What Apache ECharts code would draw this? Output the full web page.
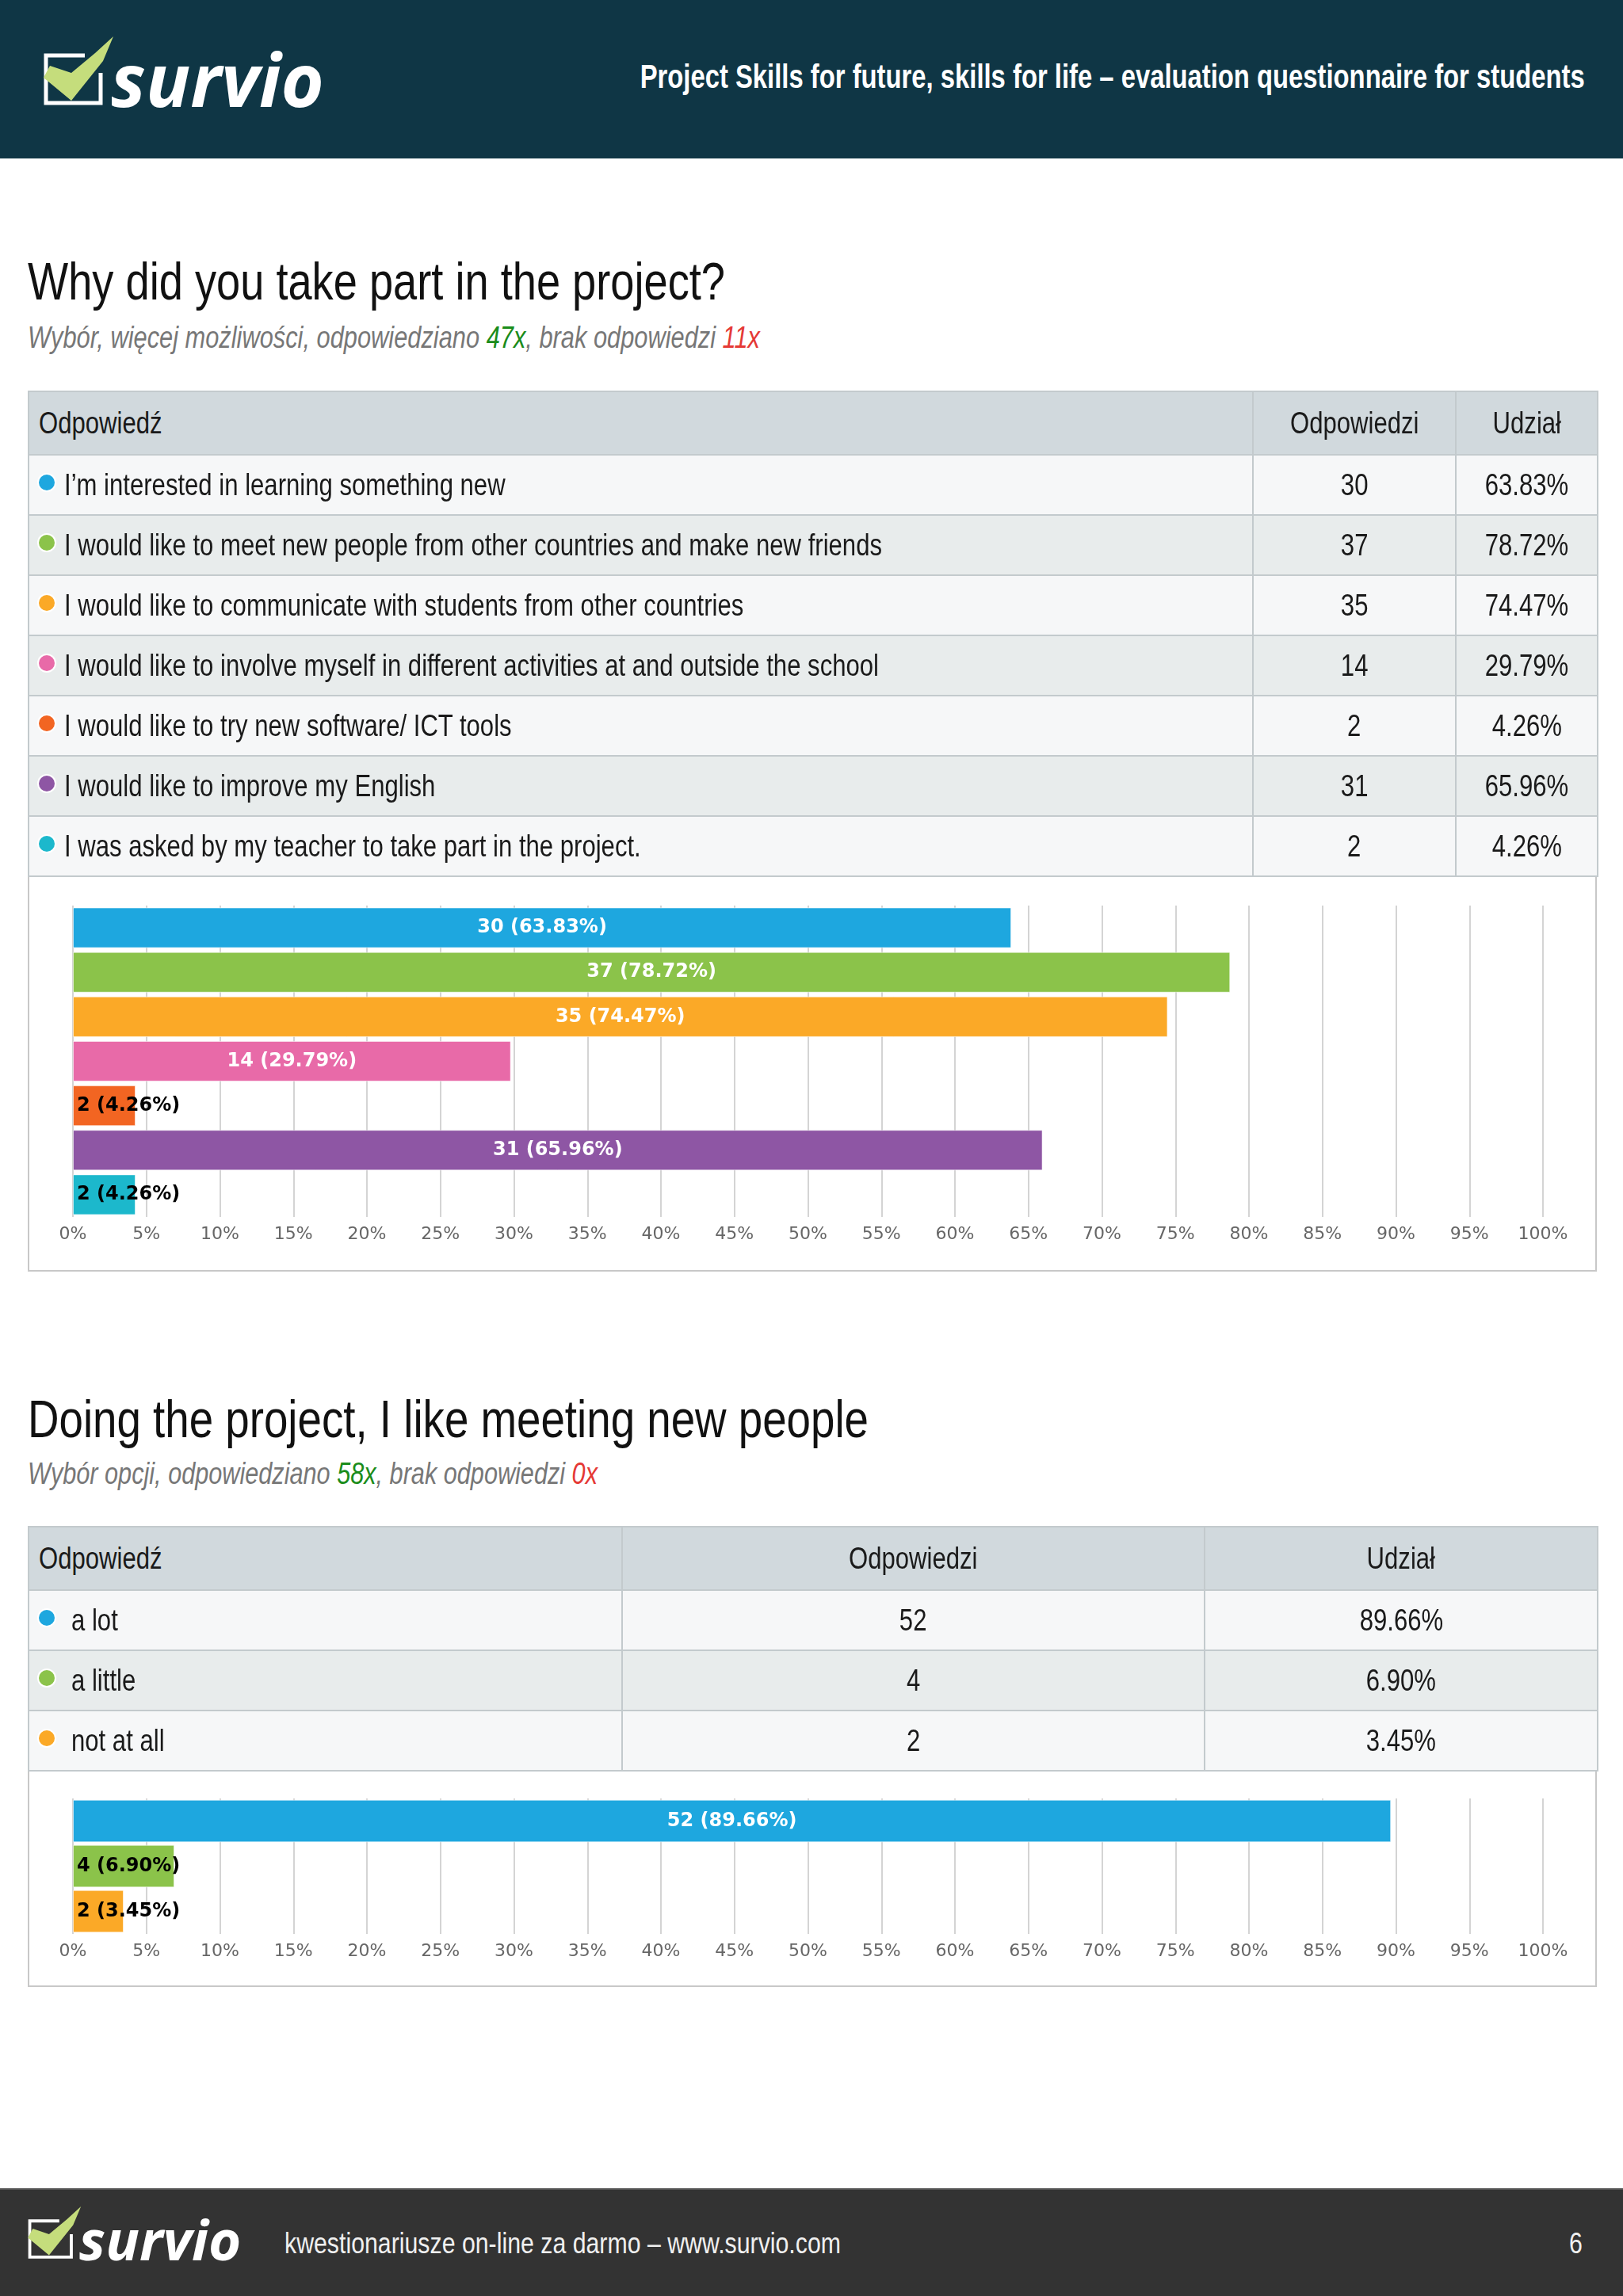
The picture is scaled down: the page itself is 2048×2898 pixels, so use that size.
<!DOCTYPE html>
<html>
<head>
<meta charset="utf-8">
<script src="https://cdn.jsdelivr.net/npm/echarts@6/dist/echarts.min.js"></script>
<style>
  html, body { margin:0; padding:0; background:#fff; }
  body { width:2048px; height:2898px; position:relative; overflow:hidden;
         font-family:"Liberation Sans", Arial, sans-serif; color:#111; }
  .fit { display:inline-block; white-space:nowrap; transform-origin:left center; }
  .hdr { position:absolute; left:0; top:0; width:2048px; height:200px; background:#0f3645; }
  .hdr-title { position:absolute; right:48px; top:70px; font-size:43px; font-weight:bold; color:#fff; white-space:nowrap; line-height:52px; }
  .hdr-title .fit { transform-origin:right center; }
  .ftr { position:absolute; left:0; top:2762px; width:2048px; height:136px; background:#333333; border-top:2px solid #555; box-sizing:border-box; }
  .ftr-text { position:absolute; left:359px; top:46px; font-size:37px; color:#f0f0f0; white-space:nowrap; line-height:44px; }
  .ftr-page { position:absolute; left:1980px; top:46px; font-size:37px; color:#f0f0f0; line-height:44px; }
  .qtitle { position:absolute; left:35px; font-size:66px; color:#111; white-space:nowrap; line-height:76px; }
  .qsub { position:absolute; left:35px; font-size:38px; font-style:italic; color:#777; white-space:nowrap; line-height:44px; }
  .qsub .g { color:#1a8c1a; } .qsub .r { color:#e53935; }
  table.t { position:absolute; z-index:2; left:35px; width:1980px; border-collapse:collapse; table-layout:fixed; font-size:38px; color:#1a1a1a; }
  table.t td, table.t th { border:2px solid #c3cacd; padding:0; font-weight:normal; overflow:hidden; white-space:nowrap; }
  table.t th { background:#d1d9dd; height:78px; }
  table.t td { height:74px; }
  table.t tr.odd td { background:#f6f7f8; }
  table.t tr.even td { background:#e8ecec; }
  .c1 { text-align:left; padding-left:12px !important; }
  .cc { text-align:center; }
  .cc .fit { transform-origin:center center; }
  .dot { display:inline-block; width:20px; height:20px; border-radius:50%; margin-right:12px; vertical-align:6px; box-shadow:0 0 0 2px #fff; }
  #t2 .dot { margin-right:21px; }
  .box { position:absolute; z-index:1; left:35px; width:1980px; border:2px solid #c8c8c8; border-top:none; box-sizing:border-box; background:#fff; }
  .chart { position:absolute; left:0; top:0; right:0; bottom:0; }
</style>
</head>
<body>
<div class="hdr">
  <div class="hdr-title"><span class="fit" data-w="1192">Project Skills for future, skills for life – evaluation questionnaire for students</span></div>
</div>
<svg style="position:absolute;left:0;top:0" width="2048" height="200">
  <polyline points="107,70 58,70 58,130 127,130 127,92" fill="none" stroke="#fff" stroke-width="5"/>
  <polygon points="55,98 90,127 130,77 143,46 120,67 90,92 63,83" fill="#c5dd7c"/>
  <text x="140" y="135" font-family="Open Sans, DejaVu Sans, sans-serif" font-weight="bold" font-style="italic" font-size="93" fill="#fff">survio</text>
</svg>

<div class="qtitle" style="top:317px"><span class="fit" data-w="880">Why did you take part in the project?</span></div>
<div class="qsub" style="top:404px"><span class="fit" data-w="924">Wybór, więcej możliwości, odpowiedziano <span class="g">47x</span>, brak odpowiedzi <span class="r">11x</span></span></div>
<table class="t" id="t1" style="top:493px">
  <colgroup><col style="width:1545px"><col style="width:256px"><col style="width:179px"></colgroup>
</table>
<div class="box" style="top:1105px;height:500px"><div class="chart" id="c1"></div></div>

<div class="qtitle" style="top:1753px"><span class="fit" data-w="1061">Doing the project, I like meeting new people</span></div>
<div class="qsub" style="top:1838px"><span class="fit" data-w="719">Wybór opcji, odpowiedziano <span class="g">58x</span>, brak odpowiedzi <span class="r">0x</span></span></div>
<table class="t" id="t2" style="top:1926px">
  <colgroup><col style="width:749px"><col style="width:735px"><col style="width:496px"></colgroup>
</table>
<div class="box" style="top:2233px;height:275px"><div class="chart" id="c2"></div></div>

<div class="ftr">
  <div class="ftr-text"><span class="fit" data-w="702">kwestionariusze on-line za darmo – www.survio.com</span></div>
  <div class="ftr-page">6</div>
</div>
<svg style="position:absolute;left:0;top:0;pointer-events:none" width="2048" height="2898">
  <g transform="translate(33,2785) scale(0.76) translate(-52,-46)">
    <polyline points="107,70 58,70 58,130 127,130 127,92" fill="none" stroke="#fff" stroke-width="5"/>
    <polygon points="55,98 90,127 130,77 143,46 120,67 90,92 63,83" fill="#c5dd7c"/>
    <text x="140" y="135" font-family="Open Sans, DejaVu Sans, sans-serif" font-weight="bold" font-style="italic" font-size="93" fill="#fff">survio</text>
  </g>
</svg>

<script>
// ---- data ----
const q1Answers = [
  "I’m interested in learning something new",
  "I would like to meet new people from other countries and make new friends",
  "I would like to communicate with students from other countries",
  "I would like to involve myself in different activities at and outside the school",
  "I would like to try new software/ ICT tools",
  "I would like to improve my English",
  "I was asked by my teacher to take part in the project."
];
const q1Counts = [30, 37, 35, 14, 2, 31, 2];
const q1Shares = [63.83, 78.72, 74.47, 29.79, 4.26, 65.96, 4.26];

const q2Answers = ["a lot", "a little", "not at all"];
const q2Counts = [52, 4, 2];
const q2Shares = [89.66, 6.90, 3.45];

const tableHeaders = ["Odpowiedź", "Odpowiedzi", "Udział"];
const palette = ["#1ea7df", "#8bc34a", "#fba927", "#e86aa8", "#f26522", "#8e56a4", "#1cb8cc"];

// ---- tables ----
function fillTable(id, answers, counts, shares) {
  const t = document.getElementById(id);
  let h = '<tr><th class="c1"><span class="fit tf">' + tableHeaders[0] + '</span></th><th class="cc"><span class="fit tf">' + tableHeaders[1] +
          '</span></th><th class="cc"><span class="fit tf">' + tableHeaders[2] + '</span></th></tr>';
  answers.forEach((a, i) => {
    h += '<tr class="' + (i % 2 === 0 ? 'odd' : 'even') + '"><td class="c1"><span class="dot" style="background:' + palette[i] + '"></span><span class="fit tf">' + a +
         '</span></td><td class="cc"><span class="fit tf">' + counts[i] + '</span></td><td class="cc"><span class="fit tf">' + shares[i].toFixed(2) + '%</span></td></tr>';
  });
  t.insertAdjacentHTML('beforeend', h);
}
fillTable('t1', q1Answers, q1Counts, q1Shares);
fillTable('t2', q2Answers, q2Counts, q2Shares);

// condense text to the reference's narrow look
document.querySelectorAll('.fit[data-w]').forEach(el => {
  const w = el.getBoundingClientRect().width;
  el.style.transform = 'scaleX(' + (parseFloat(el.dataset.w) / w) + ')';
});
(function () {
  const ref = document.querySelectorAll('#t1 .c1 .tf')[2]; // "I would like to meet new people ..."
  const k = 1032 / ref.getBoundingClientRect().width;
  document.querySelectorAll('.tf').forEach(el => { el.style.transform = 'scaleX(' + k + ')'; });
  document.querySelectorAll('.ftr-page').forEach(el => { el.style.transform = 'scaleX(' + k + ')'; el.style.transformOrigin = 'left center'; });
})();

// ---- charts ----
function makeChart(id, answers, counts, shares, gap, top, bottom) {
  const chart = echarts.init(document.getElementById(id), null, { renderer: 'canvas' });
  chart.setOption({
    animation: false,
    grid: { left: 55, right: 66, top: top, bottom: bottom },
    xAxis: {
      type: 'value', min: 0, max: 100, interval: 5,
      axisLabel: { formatter: '{value}%', color: '#666666', fontSize: 22, fontFamily: 'DejaVu Sans', margin: 11 },
      splitLine: { show: true, lineStyle: { color: '#c6c6c6', width: 1.5 } },
      axisLine: { show: false }, axisTick: { show: false }
    },
    yAxis: {
      type: 'category', data: answers, inverse: true,
      axisLabel: { show: false }, axisLine: { show: false }, axisTick: { show: false }, splitLine: { show: false }
    },
    series: [{
      type: 'bar', barCategoryGap: gap,
      itemStyle: { borderColor: 'rgba(255,255,255,0.55)', borderWidth: 1 },
      label: {
        show: true, fontFamily: 'DejaVu Sans', fontWeight: 'bold', fontSize: 24,
        formatter: p => counts[p.dataIndex] + ' (' + shares[p.dataIndex].toFixed(2) + '%)'
      },
      data: shares.map((v, i) => ({
        value: v,
        itemStyle: { color: palette[i] },
        label: v < 10 ? { position: 'insideLeft', color: '#000', distance: 5 } : { position: 'inside', color: '#fff' }
      }))
    }]
  });
}
makeChart('c1', q1Answers, q1Counts, q1Shares, '9%', 38, 67);
makeChart('c2', q2Answers, q2Counts, q2Shares, '6%', 37, 65);
</script>
</body>
</html>
